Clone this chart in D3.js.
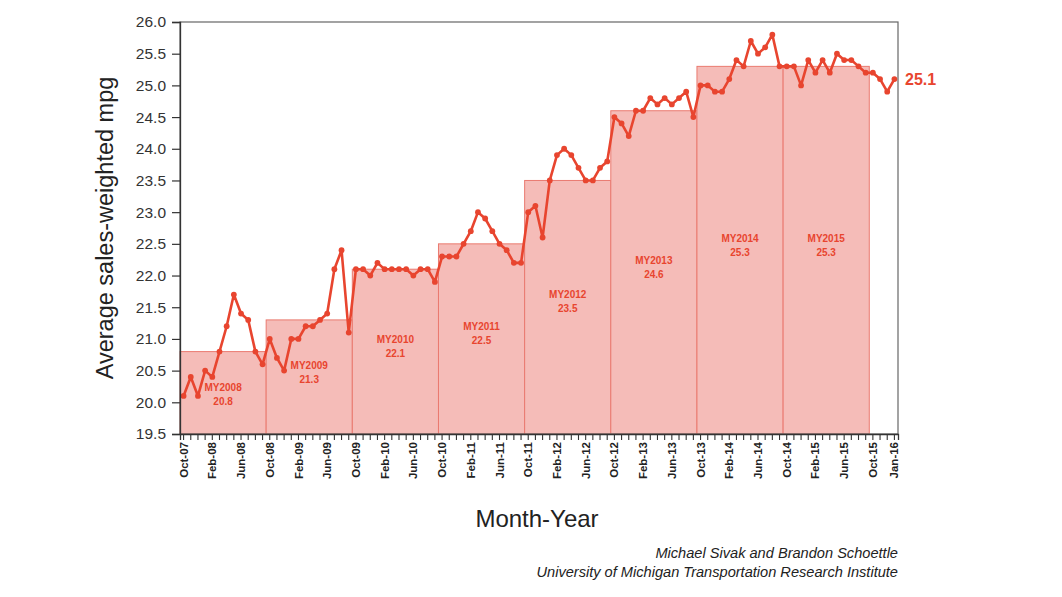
<!DOCTYPE html>
<html><head><meta charset="utf-8">
<script src="https://cdn.jsdelivr.net/npm/d3@7"></script>
<style>
html,body{margin:0;padding:0;background:#fff;}
svg{display:block;font-family:"Liberation Sans",Arial,sans-serif;}
</style></head>
<body><svg id="chart" width="1062" height="597"></svg>
<script>
// Monthly sales-weighted mpg, Oct-07 .. Jan-16
const months = (() => {
  const names = ["Jan","Feb","Mar","Apr","May","Jun","Jul","Aug","Sep","Oct","Nov","Dec"];
  const out = [];
  let y = 2007, m = 9;
  while (!(y === 2016 && m === 1)) {
    out.push(names[m] + "-" + String(y % 100).padStart(2, "0"));
    m++; if (m === 12) { m = 0; y++; }
  }
  return out;
})();
const mpg = [
  20.1, 20.4, 20.1, 20.5, 20.4, 20.8, 21.2, 21.7, 21.4, 21.3, 20.8, 20.6,
  21.0, 20.7, 20.5, 21.0, 21.0, 21.2, 21.2, 21.3, 21.4, 22.1, 22.4, 21.1,
  22.1, 22.1, 22.0, 22.2, 22.1, 22.1, 22.1, 22.1, 22.0, 22.1, 22.1, 21.9,
  22.3, 22.3, 22.3, 22.5, 22.7, 23.0, 22.9, 22.7, 22.5, 22.4, 22.2, 22.2,
  23.0, 23.1, 22.6, 23.5, 23.9, 24.0, 23.9, 23.7, 23.5, 23.5, 23.7, 23.8,
  24.5, 24.4, 24.2, 24.6, 24.6, 24.8, 24.7, 24.8, 24.7, 24.8, 24.9, 24.5,
  25.0, 25.0, 24.9, 24.9, 25.1, 25.4, 25.3, 25.7, 25.5, 25.6, 25.8, 25.3,
  25.3, 25.3, 25.0, 25.4, 25.2, 25.4, 25.2, 25.5, 25.4, 25.4, 25.3, 25.2,
  25.2, 25.1, 24.9, 25.1
];
const modelYears = ["MY2008","MY2009","MY2010","MY2011","MY2012","MY2013","MY2014","MY2015"];
const myStart = [0, 12, 24, 36, 48, 60, 72, 84];      // index of first month (Oct)
const myValue = [20.8, 21.3, 22.1, 22.5, 23.5, 24.6, 25.3, 25.3];
const myLabelAt = [20.18, 20.53, 20.94, 21.14, 21.65, 22.18, 22.53, 22.53]; // label placement (mpg units)
const yTicks = [19.5,20.0,20.5,21.0,21.5,22.0,22.5,23.0,23.5,24.0,24.5,25.0,25.5,26.0];
const lastLabel = "25.1";

const svg = d3.select("#chart");
const L = 180, R = 898, T = 22, B = 434;
const x = d3.scaleBand().domain(d3.range(months.length)).range([L, R]).padding(0);
const cx = i => x(i) + x.bandwidth() / 2;
const y = d3.scaleLinear().domain([19.5, 26]).range([B, T]);

const red = "#e8452f";

// model-year bars
const bars = svg.append("g");
modelYears.forEach((name, k) => {
  const x0 = x(myStart[k]);
  const x1 = x(myStart[k] + 11) + x.bandwidth();
  bars.append("rect")
    .attr("x", x0).attr("y", y(myValue[k]))
    .attr("width", x1 - x0).attr("height", B - y(myValue[k]))
    .attr("fill", "#f5bcb8").attr("stroke", "#ea7a70").attr("stroke-width", 1);
  const tx = (x0 + x1) / 2, ty = y(myLabelAt[k]);
  bars.append("text").attr("x", tx).attr("y", ty).attr("text-anchor", "middle")
    .attr("font-size", 10).attr("font-weight", "bold").attr("fill", red).text(name);
  bars.append("text").attr("x", tx).attr("y", ty + 14).attr("text-anchor", "middle")
    .attr("font-size", 10).attr("font-weight", "bold").attr("fill", red).text(myValue[k].toFixed(1));
});

// frame
svg.append("rect").attr("x", L).attr("y", T).attr("width", R - L).attr("height", B - T)
  .attr("fill", "none").attr("stroke", "#666").attr("stroke-width", 1.2);

// line + points
const line = d3.line().x((d, i) => cx(i)).y(d => y(d));
svg.append("path").datum(mpg).attr("d", line).attr("fill", "none")
  .attr("stroke", red).attr("stroke-width", 2.6).attr("stroke-linejoin", "round");
svg.append("g").selectAll("circle").data(mpg).join("circle")
  .attr("cx", (d, i) => cx(i)).attr("cy", d => y(d)).attr("r", 2.9).attr("fill", red);

// y axis
const yAxis = svg.append("g").attr("transform", `translate(${L},0)`)
  .call(d3.axisLeft(y).tickValues(yTicks).tickFormat(d3.format(".1f")).tickSize(8).tickPadding(6));
yAxis.select(".domain").attr("stroke", "#333").attr("stroke-width", 1.3);
yAxis.selectAll(".tick line").attr("stroke", "#333").attr("stroke-width", 1.2);
yAxis.selectAll("text").attr("font-size", 15.5).attr("fill", "#333")
  .attr("font-family", "'Liberation Sans',Arial,sans-serif");

// x axis
const last = months.length - 1;
const xAxis = svg.append("g").attr("transform", `translate(0,${B})`)
  .call(d3.axisBottom(x).tickSize(6).tickFormat(i => (i % 4 === 0 || i === last) ? months[i] : ""));
xAxis.select(".domain").attr("stroke", "#333").attr("stroke-width", 1.3);
xAxis.selectAll(".tick line").attr("stroke", "#333").attr("stroke-width", 1.1);
xAxis.selectAll("text")
  .attr("font-size", 11.5).attr("font-weight", "bold").attr("fill", "#222")
  .attr("font-family", "'Liberation Sans',Arial,sans-serif")
  .attr("text-anchor", "end").attr("dy", "0.35em")
  .attr("transform", "translate(0,8) rotate(-90)").attr("x", 0).attr("y", 0);

// end label
svg.append("text").attr("x", R + 7).attr("y", y(mpg[mpg.length - 1]) + 5.5)
  .attr("font-size", 16).attr("font-weight", "bold").attr("fill", red).text(lastLabel);

// titles
svg.append("text").attr("transform", `translate(113,${(T + B) / 2}) rotate(-90)`)
  .attr("text-anchor", "middle").attr("font-size", 23.5).attr("fill", "#222")
  .text("Average sales-weighted mpg");
svg.append("text").attr("x", 537).attr("y", 527).attr("text-anchor", "middle")
  .attr("font-size", 24).attr("fill", "#222").text("Month-Year");

svg.append("text").attr("x", R).attr("y", 558).attr("text-anchor", "end")
  .attr("font-size", 14.6).attr("font-style", "italic").attr("fill", "#222")
  .text("Michael Sivak and Brandon Schoettle");
svg.append("text").attr("x", R).attr("y", 577).attr("text-anchor", "end")
  .attr("font-size", 14.6).attr("font-style", "italic").attr("fill", "#222")
  .text("University of Michigan Transportation Research Institute");
</script></body></html>
